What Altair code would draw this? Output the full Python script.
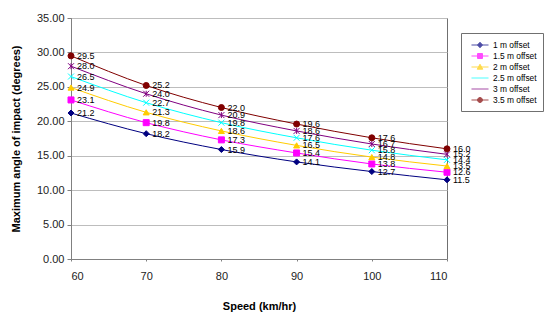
import altair as alt
import pandas as pd

speeds = [60, 70, 80, 90, 100, 110]
series_names = ["1 m offset", "1.5 m offset", "2 m offset", "2.5 m offset", "3 m offset", "3.5 m offset"]
off_1_0 = [21.2, 18.2, 15.9, 14.1, 12.7, 11.5]
off_1_5 = [23.1, 19.8, 17.3, 15.4, 13.8, 12.6]
off_2_0 = [24.9, 21.3, 18.6, 16.5, 14.8, 13.5]
off_2_5 = [26.5, 22.7, 19.8, 17.6, 15.8, 14.4]
off_3_0 = [28.0, 24.0, 20.9, 18.6, 16.7, 15.2]
off_3_5 = [29.5, 25.2, 22.0, 19.6, 17.6, 16.0]
y_ticks = [0, 5, 10, 15, 20, 25, 30, 35]

colors = ["#000080", "#FF00FF", "#FFCC00", "#00FFFF", "#800080", "#800000"]
marker_shapes = [
    "diamond",
    "square",
    "triangle-up",
    "M-1,-1L1,1M-1,1L1,-1",
    "M-1,-1L1,1M-1,1L1,-1M0,-1L0,1",
    "circle",
]
legend_shapes = [
    "M-1.55,0H1.55M0,-0.5L0.45,0L0,0.5L-0.45,0Z",
    "M-1.55,0H1.55M-0.45,-0.45H0.45V0.45H-0.45Z",
    "M-1.55,0H1.55M0,-0.5L0.5,0.4H-0.5Z",
    "M-1.55,0H1.55",
    "M-1.55,0H1.55",
    "M-1.55,0H1.55M0.45,0A0.45,0.45 0 1,1 -0.45,0A0.45,0.45 0 1,1 0.45,0Z",
]

rows = []
for name, vals in zip(series_names, [off_1_0, off_1_5, off_2_0, off_2_5, off_3_0, off_3_5]):
    for s, v in zip(speeds, vals):
        rows.append({"speed": s, "angle": v, "series": name})
df = pd.DataFrame(rows)

FONT = "Liberation Sans"

x = alt.X(
    "speed:Q",
    scale=alt.Scale(domain=[60, 110], nice=False, zero=False),
    axis=alt.Axis(values=speeds, title="Speed (km/hr)", grid=False, tickSize=2,
                  labelPadding=9, titlePadding=19, format="d"),
)
y = alt.Y(
    "angle:Q",
    scale=alt.Scale(domain=[0, 35], nice=False),
    axis=alt.Axis(values=y_ticks, format=".2f", title="Maximum angle of impact (degrees)",
                  tickSize=4, labelPadding=3, titlePadding=15),
)

color_scale = alt.Scale(domain=series_names, range=colors)

lines = alt.Chart(df).mark_line(interpolate="monotone", strokeWidth=1).encode(
    x=x, y=y,
    color=alt.Color("series:N", scale=color_scale, legend=None),
)

points = alt.Chart(df).mark_point(filled=True, size=36, strokeWidth=1, opacity=1).encode(
    x=x, y=y,
    color=alt.Color("series:N", scale=color_scale, legend=None),
    stroke=alt.Stroke("series:N", scale=color_scale, legend=None),
    shape=alt.Shape("series:N", scale=alt.Scale(domain=series_names, range=marker_shapes), legend=None),
)

labels = alt.Chart(df).mark_text(align="left", baseline="middle", dx=6, fontSize=9,
                                  font=FONT, color="#000000").encode(
    x=x, y=y, text=alt.Text("angle:Q", format=".1f"),
)

leg = alt.Legend(
    title=None, orient="none", legendX=390, legendY=15,
    strokeColor="#707070", fillColor="#ffffff", padding=6, symbolOffset=7,
    labelOffset=7, rowPadding=0, symbolSize=121, symbolStrokeWidth=1,
    labelFontSize=8.4, labelFont=FONT, labelColor="#000000",
    labelExpr="datum.label + '\u00a0\u00a0\u00a0\u00a0\u00a0'",
)

legend_layer = alt.Chart(df).mark_point(filled=True, size=0, strokeWidth=1).encode(
    x=x, y=y,
    color=alt.Color("series:N", scale=color_scale, legend=leg),
    stroke=alt.Stroke("series:N", scale=color_scale, legend=leg),
    shape=alt.Shape("series:N", scale=alt.Scale(domain=series_names, range=legend_shapes), legend=leg),
)

chart = alt.layer(lines, points, labels, legend_layer).resolve_scale(
    shape="independent"
).resolve_legend(
    color="independent", stroke="independent", shape="independent"
).properties(
    width=376, height=241,
    autosize=alt.AutoSizeParams(type="none"),
    padding={"left": 71, "top": 18, "right": 108, "bottom": 62},
    background="#ffffff",
).configure_view(
    stroke="#707070", strokeWidth=1
).configure_axis(
    domainColor="#808080", tickColor="#808080", gridColor="#bdbdbd",
    labelFont=FONT, labelFontSize=11, labelColor="#222222",
    titleFont=FONT, titleFontSize=11, titleFontWeight="bold", titleColor="#000000",
)

chart.save("out.html", embed_options={"renderer": "svg", "actions": False})
